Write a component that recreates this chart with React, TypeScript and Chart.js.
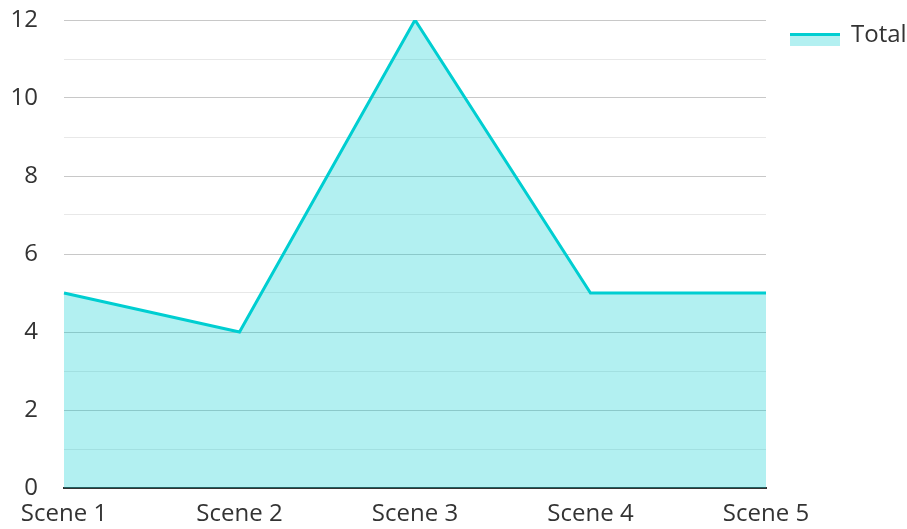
import React, { useEffect, useRef } from "react";
import { Chart, registerables } from "chart.js";

Chart.register(...registerables);

const categories = ["Scene 1", "Scene 2", "Scene 3", "Scene 4", "Scene 5"];
const totalValues = [5, 4, 12, 5, 5];
const seriesName = "Total";

const LINE = "#00CED1";
const FILL = "rgba(0,206,209,0.3)";
const FONT = { family: "'Open Sans'", size: 24 };

function makeLegendIcon(): HTMLCanvasElement {
  const c = document.createElement("canvas");
  c.width = 50;
  c.height = 22;
  const ctx = c.getContext("2d")!;
  ctx.fillStyle = "rgb(179,240,241)";
  ctx.fillRect(0, 9, 50, 13);
  ctx.fillStyle = LINE;
  ctx.fillRect(0, 9, 50, 3);
  return c;
}

const legendShift = {
  id: "legendShift",
  afterLayout(chart: any) {
    const lg = chart.legend;
    if (lg) {
      lg.left += 15;
      lg.right += 15;
    }
  },
};

export default function App() {
  const ref = useRef<HTMLCanvasElement>(null);
  useEffect(() => {
    if (!ref.current) return;
    const icon = makeLegendIcon();
    const chart = new Chart(ref.current, {
      type: "line",
      data: {
        labels: categories,
        datasets: [
          {
            label: seriesName,
            data: totalValues,
            borderColor: LINE,
            backgroundColor: FILL,
            borderWidth: 3,
            fill: "origin",
            tension: 0,
            pointRadius: 0,
            pointHoverRadius: 0,
            pointStyle: icon as any,
          },
        ],
      },
      plugins: [legendShift],
      options: {
        animation: false,
        responsive: true,
        maintainAspectRatio: false,
        layout: { padding: { left: 12, right: 0, top: 13, bottom: 0 } },
        plugins: {
          tooltip: { enabled: false },
          legend: {
            position: "right",
            align: "start",
            labels: {
              usePointStyle: true,
              pointStyleWidth: 48,
              boxWidth: 48,
              boxHeight: 13,
              color: "#333",
              padding: 10,
              font: FONT,
            },
          },
        },
        scales: {
          x: {
            offset: false,
            grid: { display: false, drawTicks: false },
            border: { display: true, color: "#333", width: 2 },
            ticks: {
              color: "#333",
              padding: 12,
              maxRotation: 0,
              autoSkip: false,
              font: FONT,
            },
            afterFit: (scale: any) => {
              scale.height = 41;
              scale.paddingRight = 141;
            },
          },
          y: {
            min: 0,
            max: 12,
            grid: {
              drawTicks: false,
              color: (ctx: any) =>
                ctx.tick && ctx.tick.value % 2 === 0 ? "#c8c8c8" : "#e8e8e8",
              lineWidth: 1,
            },
            border: { display: false },
            ticks: {
              stepSize: 1,
              autoSkip: false,
              color: "#333",
              padding: 26,
              font: FONT,
              callback: (v: any) => (Number(v) % 2 === 0 ? String(v) : ""),
            },
            afterFit: (scale: any) => {
              scale.width = 52;
              scale.paddingTop = 20;
              scale.paddingBottom = 0;
            },
          },
        },
      },
    });
    return () => chart.destroy();
  }, []);
  return (
    <div style={{ position: "fixed", left: 0, top: 0, width: 907, height: 529 }}>
      <canvas ref={ref} />
    </div>
  );
}
